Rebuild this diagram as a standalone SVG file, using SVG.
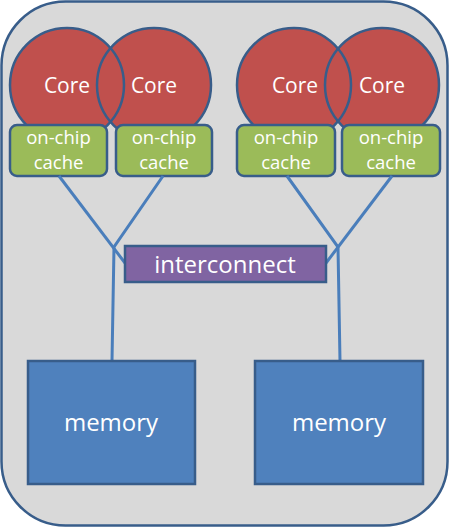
<svg xmlns="http://www.w3.org/2000/svg" width="450" height="528" viewBox="0 0 450 528">
<style>
.core{fill:#C0504D;stroke:none}
.coreline{fill:none;stroke:#385D8A;stroke-width:2.5}
.cache{fill:#9BBB59;stroke:#385D8A;stroke-width:2.5}
.mem{fill:#4F81BD;stroke:#385D8A;stroke-width:2.5}
.ic{fill:#8064A2;stroke:#385D8A;stroke-width:2.5}
.wire{fill:none;stroke:#4A7EBB;stroke-width:3}
text{font-family:"Open Sans","Liberation Sans",sans-serif;fill:#fff;text-anchor:middle}
.t1{font-size:21px}
.t2{font-size:18.5px}
.t3{font-size:24px}
.t4{font-size:24px}
</style>
<g id="chip"><rect x="1.5" y="1.5" width="446" height="524" rx="64" fill="#D9D9D9" stroke="#385D8A" stroke-width="2.5"/></g>
<g id="cores">
<g id="core1"><circle class="core" cx="67" cy="85" r="57"/></g>
<g id="core2"><circle class="core" cx="154" cy="85" r="57"/></g>
<g id="core3"><circle class="core" cx="294" cy="85" r="57"/></g>
<g id="core4"><circle class="core" cx="382" cy="85" r="57"/></g>
<g id="core-outlines">
<circle class="coreline" cx="67" cy="85" r="57"/>
<circle class="coreline" cx="154" cy="85" r="57"/>
<circle class="coreline" cx="294" cy="85" r="57"/>
<circle class="coreline" cx="382" cy="85" r="57"/>
</g>
<text class="t1" x="67" y="93">Core</text>
<text class="t1" x="154" y="93">Core</text>
<text class="t1" x="295" y="93">Core</text>
<text class="t1" x="382" y="93">Core</text>
</g>
<g id="cache1"><rect class="cache" x="10" y="125" width="97" height="51" rx="7"/><text class="t2" x="58.5" y="144">on-chip</text><text class="t2" x="58.5" y="169">cache</text></g>
<g id="cache2"><rect class="cache" x="116" y="125" width="96" height="51" rx="7"/><text class="t2" x="164" y="144">on-chip</text><text class="t2" x="164" y="169">cache</text></g>
<g id="cache3"><rect class="cache" x="237" y="125" width="98" height="51" rx="7"/><text class="t2" x="286" y="144">on-chip</text><text class="t2" x="286" y="169">cache</text></g>
<g id="cache4"><rect class="cache" x="342" y="125" width="98" height="51" rx="7"/><text class="t2" x="391" y="144">on-chip</text><text class="t2" x="391" y="169">cache</text></g>
<g id="connectors">
<polyline class="wire" points="59,176 125,263"/>
<polyline class="wire" points="163,176 114,247 112,361"/>
<polyline class="wire" points="392,176 326,263"/>
<polyline class="wire" points="287,176 338,247 340,361"/>
</g>
<g id="interconnect"><rect class="ic" x="125" y="246" width="201" height="36"/><text class="t3" x="225" y="273">interconnect</text></g>
<g id="memory1"><rect class="mem" x="28" y="361" width="167" height="123"/><text class="t4" x="111" y="431">memory</text></g>
<g id="memory2"><rect class="mem" x="255" y="361" width="168" height="123"/><text class="t4" x="339" y="431">memory</text></g>
</svg>
